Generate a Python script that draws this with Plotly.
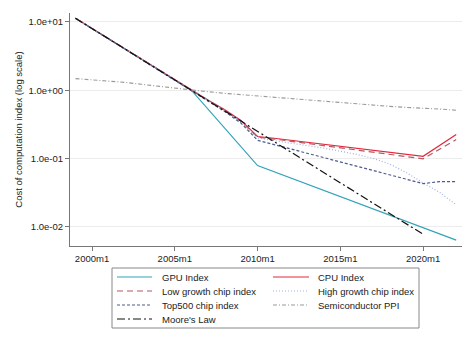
import plotly.graph_objects as go

# ---- data ----
gpu_years = [1999, 2006, 2010, 2022]
gpu_vals = [11.3, 1.0, 0.079, 0.0064]

cpu_years = [1999, 2006, 2007, 2008, 2009, 2010, 2011, 2020, 2022]
cpu_vals = [11.3, 1.0, 0.72, 0.52, 0.36, 0.21, 0.198, 0.108, 0.225]

low_years = [1999, 2006, 2007, 2008, 2009, 2010, 2011, 2020, 2022]
low_vals = [11.3, 1.0, 0.71, 0.51, 0.35, 0.205, 0.193, 0.099, 0.19]

high_years = [1999, 2006, 2007, 2008, 2009, 2010, 2012, 2014, 2016, 2017, 2018, 2019, 2020, 2021, 2022]
high_vals = [11.3, 1.0, 0.71, 0.51, 0.35, 0.2, 0.168, 0.142, 0.115, 0.1, 0.083, 0.062, 0.044, 0.032, 0.021]

top500_years = [1999, 2006, 2007, 2008, 2009, 2010, 2020, 2021, 2022]
top500_vals = [11.3, 1.0, 0.70, 0.49, 0.33, 0.185, 0.043, 0.046, 0.046]

ppi_years = list(range(1999, 2023))
ppi_vals = [1.48, 1.42, 1.36, 1.3, 1.22, 1.14, 1.07, 1.0, 0.95, 0.9, 0.86, 0.82,
            0.78, 0.75, 0.72, 0.69, 0.66, 0.63, 0.6, 0.58, 0.56, 0.55, 0.53, 0.51]

moore_years = [1999, 2006, 2020]
moore_vals = [11.31, 1.0, 0.0078]

x_tickvals = [2000, 2005, 2010, 2015, 2020]
x_ticktext = ["2000m1", "2005m1", "2010m1", "2015m1", "2020m1"]
y_tickvals = [10, 1, 0.1, 0.01]
y_ticktext = ["1.0e+01", "1.0e+00", "1.0e-01", "1.0e-02"]

FONT = "Liberation Sans, Arial, sans-serif"
TXT = "#222"

series = [
    ("GPU Index", gpu_years, gpu_vals, "#31a3b6", "solid", 1.2),
    ("CPU Index", cpu_years, cpu_vals, "#e3263c", "solid", 1.2),
    ("Low growth chip index", low_years, low_vals, "#b5585f", "6px,4px", 1.2),
    ("High growth chip index", high_years, high_vals, "#9fb2e3", "1px,2px", 1.2),
    ("Top500 chip index", top500_years, top500_vals, "#4b5d8c", "3px,2px", 1.2),
    ("Semiconductor PPI", ppi_years, ppi_vals, "#9a9a9a", "4px,2px,1px,2px", 1.1),
    ("Moore's Law", moore_years, moore_vals, "#111111", "8px,3px,2px,3px", 1.2),
]

W, H = 474, 344
ML, MR, MT, MB = 70, 12, 13, 98
PW, PH = W - ML - MR, H - MT - MB


def px_x(px):
    return (px - ML) / PW


def px_y(py):
    return (H - MB - py) / PH


fig = go.Figure()
for name, xs, ys, col, dash, w in series:
    fig.add_trace(go.Scatter(x=xs, y=ys, mode="lines", name=name, showlegend=False,
                             line=dict(color=col, dash=dash, width=w)))

# ---- manual legend (two columns, compact rows) ----
shapes = [dict(type="rect", xref="paper", yref="paper",
               x0=px_x(112), x1=px_x(419), y0=px_y(268), y1=px_y(328),
               line=dict(color="#888", width=1), fillcolor="white", layer="above")]
annotations = []
row_y = [277, 291, 305, 319]
col_line = [(117, 152, 160), (273, 309, 316)]
for i, (name, xs, ys, col, dash, w) in enumerate(series):
    r, c = divmod(i, 2)
    lx0, lx1, tx = col_line[c]
    y = row_y[r]
    shapes.append(dict(type="line", xref="paper", yref="paper",
                       x0=px_x(lx0), x1=px_x(lx1), y0=px_y(y), y1=px_y(y),
                       line=dict(color=col, dash=dash, width=w), layer="above"))
    annotations.append(dict(text=name, xref="paper", yref="paper",
                            x=px_x(tx), y=px_y(y), xanchor="left", yanchor="middle",
                            showarrow=False, font=dict(family=FONT, size=9.5, color=TXT)))

fig.update_layout(
    width=W, height=H,
    margin=dict(l=ML, r=MR, t=MT, b=MB, autoexpand=False),
    paper_bgcolor="white", plot_bgcolor="white",
    font=dict(family=FONT, size=9.5, color=TXT),
    showlegend=False,
    shapes=shapes, annotations=annotations,
    xaxis=dict(
        range=[1998.67, 2022.35], tickvals=x_tickvals, ticktext=x_ticktext,
        showgrid=False, zeroline=False, showline=True, linecolor="#777", linewidth=1,
        ticks="outside", ticklen=4, tickcolor="#777",
        tickfont=dict(family=FONT, size=9.5, color=TXT),
    ),
    yaxis=dict(
        type="log", range=[-2.28, 1.13], tickvals=y_tickvals, ticktext=y_ticktext,
        showgrid=True, gridcolor="#ececec", gridwidth=1, zeroline=False,
        showline=True, linecolor="#777", linewidth=1,
        ticks="outside", ticklen=4, tickcolor="#777",
        tickfont=dict(family=FONT, size=9.5, color=TXT),
        title=dict(text="Cost of computation index (log scale)", standoff=4,
                   font=dict(family=FONT, size=9.5, color=TXT)),
    ),
)

fig.write_html("out.html")
